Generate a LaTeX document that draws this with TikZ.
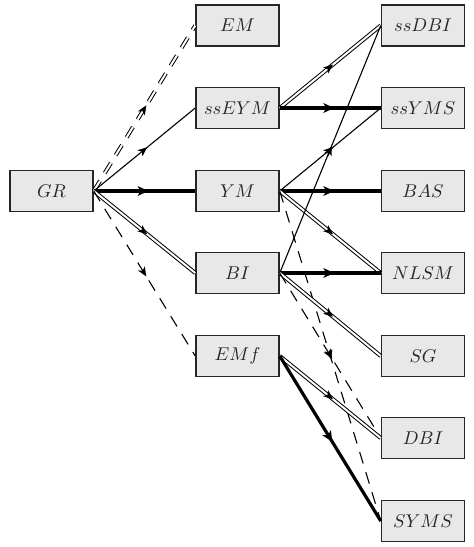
\documentclass[tikz,border=0pt]{standalone}
\usepackage{graphicx}
\usetikzlibrary{decorations.markings}
\newcommand{\boxlbl}[1]{\scalebox{1.85}{$#1$}}
\begin{document}
\begin{tikzpicture}[x=1pt,y=-1pt,
  box/.style={draw=black!85, line width=1.5pt, fill=black!9, minimum width=83pt, minimum height=41pt, inner sep=0pt, text=black!85},
  mid/.style={postaction={decorate}, decoration={markings, mark=at position 0.5 with {\fill (3.5pt,0) -- (-6pt,4pt) -- (-3.5pt,0) -- (-6pt,-4pt) -- cycle;}}},
  midbig/.style={postaction={decorate}, decoration={markings, mark=at position 0.5 with {\fill (4pt,0) -- (-7pt,5pt) -- (-4pt,0) -- (-7pt,-5pt) -- cycle;}}},
  thinl/.style={line width=1.1pt, mid},
  thickl/.style={line width=3.2pt, midbig},
  dbl/.style={double, line width=1pt, double distance=2pt, mid},
  dsh/.style={dash pattern=on 12pt off 9pt},
  dshl/.style={line width=1.1pt, dsh, mid},
  dbldsh/.style={double, line width=1pt, double distance=2pt, dsh, mid}
]
\useasboundingbox (0,0) rectangle (474,547);
\node[box] (GR) at (51.5,191) {\boxlbl{GR}};
\node[box] (EM) at (237.5,25.5) {\boxlbl{EM}};
\node[box] (ssEYM) at (237.5,108) {\boxlbl{ssEYM}};
\node[box] (YM) at (237.5,191) {\boxlbl{YM}};
\node[box] (BI) at (237.5,273) {\boxlbl{BI}};
\node[box] (EMf) at (237.5,356) {\boxlbl{EMf}};
\node[box] (ssDBI) at (423,25.5) {\boxlbl{ssDBI}};
\node[box] (ssYMS) at (423,108) {\boxlbl{ssYMS}};
\node[box] (BAS) at (423,191) {\boxlbl{BAS}};
\node[box] (NLSM) at (423,273) {\boxlbl{NLSM}};
\node[box] (SG) at (423,356) {\boxlbl{SG}};
\node[box] (DBI) at (423,438) {\boxlbl{DBI}};
\node[box] (SYMS) at (423,521) {\boxlbl{SYMS}};

\draw[dbldsh] (GR.east) -- (EM.west);
\draw[thinl] (GR.east) -- (ssEYM.west);
\draw[thickl] (GR.east) -- (YM.west);
\draw[dbl] (GR.east) -- (BI.west);
\draw[dshl] (GR.east) -- (EMf.west);

\draw[dbl] (ssEYM.east) -- (ssDBI.west);
\draw[thickl] (ssEYM.east) -- (ssYMS.west);

\draw[thinl] (YM.east) -- (ssYMS.west);
\draw[thickl] (YM.east) -- (BAS.west);
\draw[dbl] (YM.east) -- (NLSM.west);
\draw[dshl] (YM.east) -- (SYMS.west);

\draw[thinl] (BI.east) -- (ssDBI.west);
\draw[thickl] (BI.east) -- (NLSM.west);
\draw[dbl] (BI.east) -- (SG.west);
\draw[dshl] (BI.east) -- (DBI.west);

\draw[dbl] (EMf.east) -- (DBI.west);
\draw[thickl] (EMf.east) -- (SYMS.west);
\end{tikzpicture}
\end{document}
